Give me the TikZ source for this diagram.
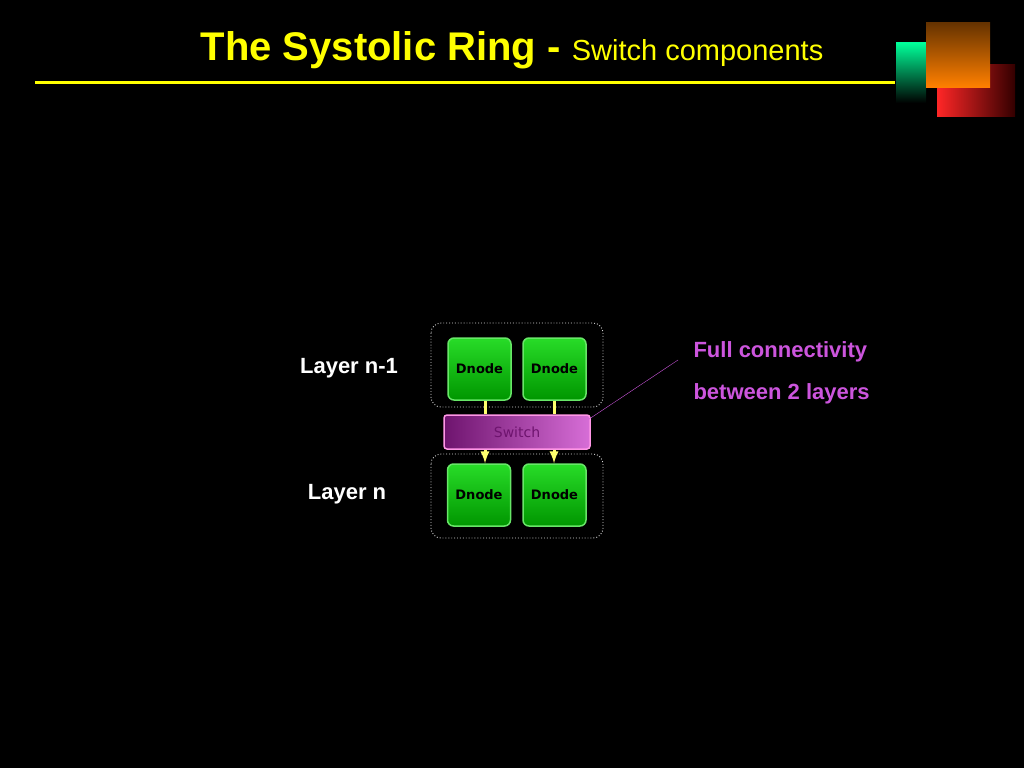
\documentclass[tikz,border=0pt]{standalone}
\usepackage{fontspec}
\setmainfont{Liberation Sans}
\newfontfamily\dnodefont{DejaVu Sans}
\definecolor{TitleColor}{RGB}{255,255,0}
\definecolor{NoteColor}{RGB}{204,85,221}
\definecolor{DnodeColor}{RGB}{40,220,40}
\definecolor{DnodeDark}{RGB}{0,150,0}
\definecolor{SwitchColor}{RGB}{215,110,215}
\definecolor{SwitchDark}{RGB}{110,20,110}
\definecolor{SwitchBorder}{RGB}{255,150,230}
\definecolor{LinkColor}{RGB}{255,255,110}
\tikzset{
  dnode/.style={draw=DnodeColor!70!white, line width=1.5pt, rounded corners=6pt,
    top color=DnodeColor, bottom color=DnodeDark, minimum width=63pt, minimum height=62pt,
    font=\dnodefont\bfseries\fontsize{13}{15}\selectfont, text=black},
  layerbox/.style={draw=white!85!black, dotted, line width=0.9pt, rounded corners=10pt},
  layerlabel/.style={font=\bfseries\fontsize{22}{26}\selectfont, text=white},
  note/.style={font=\bfseries\fontsize{22}{26}\selectfont, text=NoteColor, anchor=west},
  link/.style={draw=LinkColor, line width=3pt}
}
\begin{document}
\begin{tikzpicture}[x=1pt,y=-1pt]

	% Background

	\fill [black] (0,0) rectangle (1024,768);
	\useasboundingbox (0,0) rectangle (1024,768);

	% Title

	\node (title) [text=TitleColor, anchor=base] at (512,60)
		{\bfseries\fontsize{40}{44}\selectfont The Systolic Ring - \mdseries\fontsize{29}{32}\selectfont Switch components};
	\draw [TitleColor, line width=3pt] (35,82) -- (895,82);

	% Corner squares

	\shade [top color=TitleColor!0!cyan!60!green, bottom color=black] (896,43) rectangle (926,103);
	\shade [left color=red!85!white, right color=black!80!red] (937,64) rectangle (1015,116);
	\shade [top color=black!60!orange, bottom color=orange] (926,23) rectangle (990,87);

	% Layers

	\draw [layerbox] (431,323) rectangle (603,407);
	\draw [layerbox] (431,454) rectangle (603,538);

	\node (up1) [dnode] at (479.5,369) {Dnode};
	\node (up2) [dnode] at (554.5,369) {Dnode};
	\node (lo1) [dnode] at (479,495) {Dnode};
	\node (lo2) [dnode] at (554.5,495) {Dnode};

	\node (switch) [draw=SwitchBorder, line width=1.5pt, rounded corners=3pt,
		shading angle=-60, left color=SwitchDark, right color=SwitchColor, minimum width=146pt, minimum height=34pt,
		font=\dnodefont\fontsize{14}{16}\selectfont, text=SwitchDark] at (517,432) {Switch};

	% Links

	\draw [link] (up1.south -| 485,0) -- (switch.north -| 485,0);
	\draw [link] (up2.south -| 554,0) -- (switch.north -| 554,0);
	\draw [link, -latex] (switch.south -| 485,0) -- (lo1.north -| 485,0);
	\draw [link, -latex] (switch.south -| 554,0) -- (lo2.north -| 554,0);

	% Labels

	\node (ln1) [layerlabel] at (349,368) {Layer n-1};
	\node (ln) [layerlabel] at (347,494) {Layer n};
	\node (full) [note] at (690,352) {Full connectivity};
	\node (betw) [note] at (690,394) {between 2 layers};
	\coordinate (tip) at (678,360);
	\draw [NoteColor] (switch.north east) ++(-2,5) -- (tip);

\end{tikzpicture}
\end{document}
